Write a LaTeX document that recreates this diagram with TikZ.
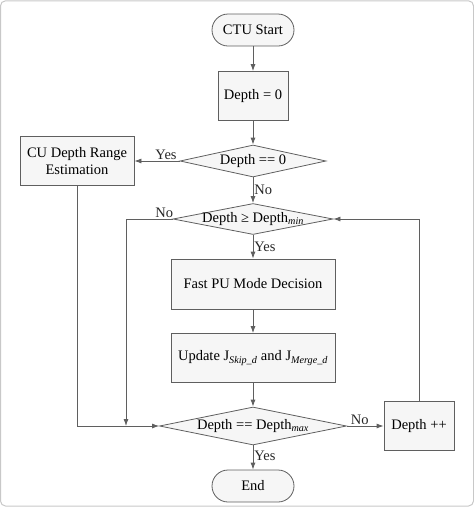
\documentclass[tikz,border=0pt]{standalone}
\usepackage{fontspec}
\setmainfont{Liberation Serif}
\usetikzlibrary{shapes.geometric,arrows.meta}
\definecolor{linec}{RGB}{95,95,95}
\definecolor{boxfill}{RGB}{246,246,246}
\definecolor{framec}{RGB}{200,200,200}
\begin{document}
\begin{tikzpicture}[x=1pt,y=-1pt,
 every node/.style={font=\fontsize{14.5}{16.5}\selectfont},
 box/.style={draw=linec, fill=boxfill, rectangle, inner sep=0pt, line width=0.8pt},
 term/.style={box, rounded corners=16pt, minimum width=82pt, minimum height=32pt},
 dia/.style={draw=linec, fill=boxfill, diamond, inner sep=0pt, line width=0.8pt},
 conn/.style={draw=linec, line width=0.8pt, -{Latex[length=7pt,width=5pt]}},
 lab/.style={inner sep=1pt, text=black!85}]
\useasboundingbox (0,0) rectangle (474,507);
\draw[framec, line width=1pt, rounded corners=5pt] (0.5,0.8) rectangle (473.5,506);

\node[term] (start) at (253,30) {CTU Start};
\node[box, minimum width=70pt, minimum height=49pt] (d0) at (253,96) {Depth = 0};
\node[dia, minimum width=146pt, minimum height=32pt] (q1) at (253,161) {};
\node (q1t) at (q1) {Depth == 0};
\node[box, minimum width=114pt, minimum height=49pt, align=center] (cu) at (77,161) {CU Depth Range\\Estimation};
\node[dia, minimum width=160pt, minimum height=31pt] (q2) at (253,219) {};
\node (q2t) at (q2) {Depth ≥ Depth\textsubscript{\itshape min}};
\node[box, minimum width=164pt, minimum height=50pt] (pu) at (253,284) {Fast PU Mode Decision};
\node[box, minimum width=164pt, minimum height=49pt] (up) at (253,358) {Update J\textsubscript{\itshape Skip\_d} and J\textsubscript{\itshape Merge\_d}};
\node[dia, minimum width=187pt, minimum height=38pt] (q3) at (253,426) {};
\node (q3t) at (q3) {Depth == Depth\textsubscript{\itshape max}};
\node[box, minimum width=70pt, minimum height=49pt] (inc) at (419,426) {Depth ++};
\node[term] (end) at (253,486) {End};
\coordinate (j) at (126,426);

\draw[conn] (start) -- (d0);
\draw[conn] (d0) -- (q1);
\draw[conn] (q1.west) -- (cu.east) node[lab, above, pos=0.3] {Yes};
\draw[conn] (q1.south) -- (q2.north) node[lab, right, midway] {No};
\draw[conn] (q2.south) -- (pu.north) node[lab, right, midway] {Yes};
\draw[conn] (pu) -- (up);
\draw[conn] (up.south) -- (q3.north);
\draw[conn] (q3.south) -- (end.north) node[lab, right, pos=0.45] {Yes};
\draw[conn] (q3.east) -- (inc.west) node[lab, above, pos=0.35] {No};
\draw[conn] (inc.north) |- (q2.east);
\draw[conn] (cu.south) |- (q3.west);
\draw[conn] (q2.west) node[lab, above left, xshift=2pt] {No} -| (j);
\end{tikzpicture}
\end{document}
